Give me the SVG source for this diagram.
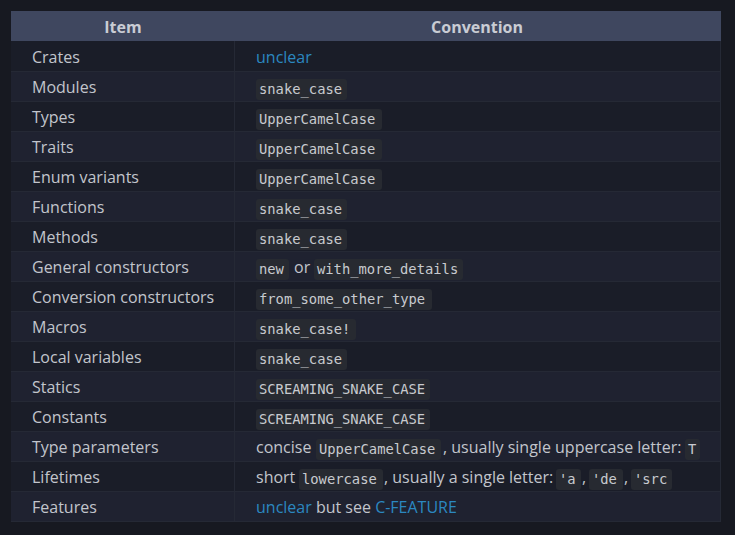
<svg xmlns="http://www.w3.org/2000/svg" width="735" height="535" viewBox="0 0 735 535">
<style>
.t{font-family:"Open Sans","Noto Sans",sans-serif;font-size:16px;fill:#c2c5cc}
.h{font-family:"Open Sans","Noto Sans",sans-serif;font-size:16px;font-weight:bold;fill:#c9ccd4;text-anchor:middle}
.l{fill:#2b88c0}
.m{font-family:"DejaVu Sans Mono","Liberation Mono",monospace;font-size:13.8px;fill:#c8cacf}
.c{fill:#272a31}
.a{fill:#1a1d28}.b{fill:#1f2230}
.g{stroke:#252935;stroke-width:1;fill:none}
</style>
<rect width="735" height="535" fill="#171921"/>
<rect x="11" y="11" width="710" height="30" fill="#3f475f"/>
<g id="rows">
<rect class="a" x="11" y="41" width="710" height="30"/><rect class="b" x="11" y="71" width="710" height="30"/>
<rect class="a" x="11" y="101" width="710" height="30"/><rect class="b" x="11" y="131" width="710" height="30"/>
<rect class="a" x="11" y="161" width="710" height="30"/><rect class="b" x="11" y="191" width="710" height="30"/>
<rect class="a" x="11" y="221" width="710" height="30"/><rect class="b" x="11" y="251" width="710" height="30"/>
<rect class="a" x="11" y="281" width="710" height="30"/><rect class="b" x="11" y="311" width="710" height="30"/>
<rect class="a" x="11" y="341" width="710" height="30"/><rect class="b" x="11" y="371" width="710" height="30"/>
<rect class="a" x="11" y="401" width="710" height="30"/><rect class="b" x="11" y="431" width="710" height="30"/>
<rect class="a" x="11" y="461" width="710" height="30"/><rect class="b" x="11" y="491" width="710" height="30"/>
</g>
<g id="grid" class="g">
<path d="M234.5 41V521M11 71.5H721M11 101.5H721M11 131.5H721M11 161.5H721M11 191.5H721M11 221.5H721M11 251.5H721M11 281.5H721M11 311.5H721M11 341.5H721M11 371.5H721M11 401.5H721M11 431.5H721M11 461.5H721M11 491.5H721M11 521.5H721M720.5 41V521"/>
</g>
<g id="header"><text class="h" x="123" y="33">Item</text><text class="h" x="477" y="33">Convention</text></g>
<g id="items" class="t">
<text x="32" y="63">Crates</text><text x="32" y="93">Modules</text><text x="32" y="123">Types</text><text x="32" y="153">Traits</text>
<text x="32" y="183">Enum variants</text><text x="32" y="213">Functions</text><text x="32" y="243">Methods</text><text x="32" y="273">General constructors</text>
<text x="32" y="303">Conversion constructors</text><text x="32" y="333">Macros</text><text x="32" y="363">Local variables</text><text x="32" y="393">Statics</text>
<text x="32" y="423">Constants</text><text x="32" y="453">Type parameters</text><text x="32" y="483">Lifetimes</text><text x="32" y="513">Features</text>
</g>
<g id="conv">
<text class="t l" x="256" y="63">unclear</text>
<rect class="c" x="256" y="79" width="91" height="21" rx="3"/><text class="m" x="259" y="94">snake_case</text>
<rect class="c" x="256" y="109" width="126" height="21" rx="3"/><text class="m" x="259" y="124">UpperCamelCase</text>
<rect class="c" x="256" y="139" width="126" height="21" rx="3"/><text class="m" x="259" y="154">UpperCamelCase</text>
<rect class="c" x="256" y="169" width="126" height="21" rx="3"/><text class="m" x="259" y="184">UpperCamelCase</text>
<rect class="c" x="256" y="199" width="91" height="21" rx="3"/><text class="m" x="259" y="214">snake_case</text>
<rect class="c" x="256" y="229" width="91" height="21" rx="3"/><text class="m" x="259" y="244">snake_case</text>
<rect class="c" x="256" y="259" width="33" height="21" rx="3"/><text class="m" x="259" y="274">new</text>
<text class="t" x="294" y="273">or</text>
<rect class="c" x="314" y="259" width="149" height="21" rx="3"/><text class="m" x="317" y="274">with_more_details</text>
<rect class="c" x="256" y="289" width="176" height="21" rx="3"/><text class="m" x="259" y="304">from_some_other_type</text>
<rect class="c" x="256" y="319" width="100" height="21" rx="3"/><text class="m" x="259" y="334">snake_case!</text>
<rect class="c" x="256" y="349" width="91" height="21" rx="3"/><text class="m" x="259" y="364">snake_case</text>
<rect class="c" x="256" y="379" width="174" height="21" rx="3"/><text class="m" x="259" y="394">SCREAMING_SNAKE_CASE</text>
<rect class="c" x="256" y="409" width="174" height="21" rx="3"/><text class="m" x="259" y="424">SCREAMING_SNAKE_CASE</text>
<text class="t" x="256" y="453">concise</text>
<rect class="c" x="316" y="439" width="125" height="21" rx="3"/><text class="m" x="319" y="454">UpperCamelCase</text>
<text class="t" x="443" y="453">, usually single uppercase letter:</text>
<rect class="c" x="685" y="439" width="15" height="21" rx="3"/><text class="m" x="688" y="454">T</text>
<text class="t" x="256" y="483">short</text>
<rect class="c" x="299" y="469" width="84" height="21" rx="3"/><text class="m" x="302" y="484">lowercase</text>
<text class="t" x="384" y="483">, usually a single letter:</text>
<rect class="c" x="556" y="469" width="25" height="21" rx="3"/><text class="m" x="559" y="484">'a</text>
<text class="t" x="582" y="483">,</text>
<rect class="c" x="589" y="469" width="34" height="21" rx="3"/><text class="m" x="592" y="484">'de</text>
<text class="t" x="624" y="483">,</text>
<rect class="c" x="631" y="469" width="41" height="21" rx="3"/><text class="m" x="634" y="484">'src</text>
<text class="t" x="256" y="513"><tspan class="l">unclear</tspan> but see <tspan class="l">C-FEATURE</tspan></text>
</g>
</svg>
